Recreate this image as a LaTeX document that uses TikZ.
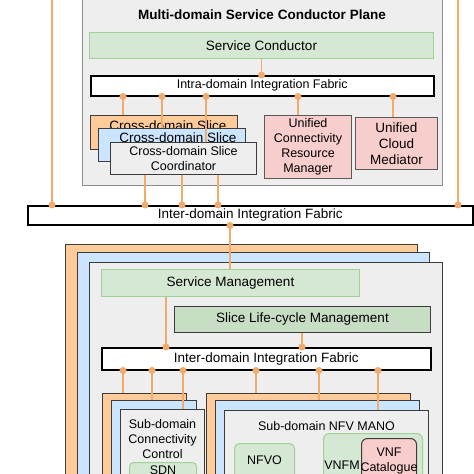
\documentclass[tikz,border=0pt]{standalone}
\usepackage{fontspec}
\setsansfont{Liberation Sans}
\usetikzlibrary{positioning,arrows.meta}

\definecolor{linkc}{RGB}{240,172,110}
\definecolor{orangef}{RGB}{255,204,153}
\definecolor{bluef}{RGB}{204,229,255}
\definecolor{grayf}{RGB}{238,238,238}
\definecolor{greenf}{RGB}{213,232,212}
\definecolor{greend}{RGB}{160,210,150}
\definecolor{lcmf}{RGB}{200,222,196}
\definecolor{pinkf}{RGB}{248,206,204}
\definecolor{edge}{RGB}{60,60,60}

\begin{document}
\begin{tikzpicture}[x=1pt,y=-1pt,
  font=\sffamily\fontsize{12.5}{15}\selectfont,
  every node/.style={align=center, inner sep=0pt},
  big/.style={font=\sffamily\fontsize{13.5}{16}\selectfont},
  blk/.style={anchor=north west, line width=1pt},
  planebox/.style={blk, draw=gray!90, fill=grayf},
  orangebox/.style={blk, draw=edge, fill=orangef},
  bluebox/.style={blk, draw=edge, fill=bluef},
  graybox/.style={blk, draw=edge, fill=grayf},
  greenbox/.style={blk, draw=greend, fill=greenf},
  lcmbox/.style={blk, draw=edge, fill=lcmf},
  pinkbox/.style={blk, draw=edge!85, fill=pinkf},
  fabric/.style={blk, draw=black, line width=1.5pt, fill=white},
  tap/.style={draw=linkc, line width=1.2pt, {Circle[length=7pt]}-, shorten <=-3.5pt}]

\useasboundingbox (0,0) rectangle (474,474);
\clip (0,0) rectangle (474,474);

% Multi-domain service conductor plane
\node[planebox, minimum width=360pt, minimum height=200pt] (plane) at (82,-15) {};
\node[font=\sffamily\bfseries\fontsize{13.5}{16}\selectfont] (planeTitle) at (262,15) {Multi-domain Service Conductor Plane};
\node[greenbox, big, minimum width=344pt, minimum height=26pt] (sc) at (89,32) {Service Conductor};
\node[fabric, minimum width=343pt, minimum height=20pt] (intra) at (90,75) {Intra-domain Integration Fabric};

\node[orangebox, minimum width=147pt, minimum height=34pt] (cdsA) at (90,115) {};
\node[big, below=6pt of cdsA.north, xshift=4pt] (cdsAtxt) {Cross-domain Slice};
\node[bluebox, minimum width=147pt, minimum height=33pt] (cdsB) at (98,128) {};
\node[big, below=5pt of cdsB.north, xshift=6pt] (cdsBtxt) {Cross-domain Slice};
\node[graybox, minimum width=146pt, minimum height=32pt] (cdsC) at (110,142) {Cross-domain Slice\\Coordinator};

\node[pinkbox, minimum width=87pt, minimum height=63pt] (ucrm) at (264,115) {Unified\\Connectivity\\Resource\\Manager};
\node[pinkbox, font=\sffamily\fontsize{13.5}{16}\selectfont, minimum width=82pt, minimum height=52pt] (ucm) at (355,117) {Unified\\Cloud\\Mediator};

% Inter-domain fabric
\node[fabric, big, minimum width=445pt, minimum height=19pt] (inter) at (27,205) {Inter-domain Integration Fabric};

% Domain stack
\node[orangebox, minimum width=352pt, minimum height=260pt] (domA) at (65,244) {};
\node[bluebox, minimum width=352pt, minimum height=260pt] (domB) at (77,252) {};
\node[graybox, minimum width=353pt, minimum height=260pt] (domC) at (89,262) {};
\node[greenbox, big, minimum width=258pt, minimum height=27pt] (sm) at (101,269) {Service Management};
\node[lcmbox, big, minimum width=256pt, minimum height=26pt] (slcm) at (174,306) {Slice Life-cycle Management};
\node[fabric, big, minimum width=329pt, minimum height=22pt] (inter2) at (101,347) {Inter-domain Integration Fabric};

% Sub-domain connectivity control
\node[orangebox, minimum width=84pt, minimum height=100pt] (sccA) at (102,393) {};
\node[bluebox, minimum width=85pt, minimum height=100pt] (sccB) at (111,400) {};
\node[graybox, minimum width=84pt, minimum height=100pt] (sccC) at (120,409) {};
\node[below=10pt of sccC.north] (sccTxt) {Sub-domain\\Connectivity\\Control};
\node[greenbox, rounded corners=4pt, minimum width=67pt, minimum height=40pt] (sdn) at (129,462) {};
\node[below=4pt of sdn.north] (sdnTxt) {SDN};

% Sub-domain NFV MANO
\node[orangebox, minimum width=204pt, minimum height=100pt] (nfvA) at (206,393) {};
\node[bluebox, minimum width=204pt, minimum height=100pt] (nfvB) at (215,400) {};
\node[graybox, minimum width=204pt, minimum height=100pt] (nfvC) at (224,410) {};
\node[below=11pt of nfvC.north] (nfvTxt) {Sub-domain NFV MANO};
\node[greenbox, rounded corners=5pt, minimum width=60pt, minimum height=60pt] (nfvo) at (234,443) {};
\node[below=13pt of nfvo.north] (nfvoTxt) {NFVO};
\node[greenbox, rounded corners=6pt, minimum width=99pt, minimum height=60pt] (vnfm) at (323,433) {};
\node (vnfmTxt) at (342,465) {VNFM};
\node[pinkbox, rounded corners=6pt, draw=edge, minimum width=55pt, minimum height=60pt] (vnfc) at (361,438) {};
\node[below=10pt of vnfc.north] (vnfcTxt) {VNF\\Catalogue};

% Connectors
\coordinate (upL) at (52,-20);
\coordinate (upR) at (458,-20);
\draw[tap] (upL |- inter.north) -- (upL);
\draw[tap] (upR |- inter.north) -- (upR);
\draw[tap] (sc.south |- intra.north) -- (sc.south);
\foreach \x/\t in {123/cdsA,162/cdsB,206/cdsC,298/ucrm,393/ucm}
  \draw[tap] (\x,0 |- intra.south) -- (\x,0 |- \t.north);
\foreach \x in {145,182,218}
  \draw[tap] (\x,0 |- inter.north) -- (\x,0 |- cdsC.south);
\draw[tap] (230,0 |- inter.south) -- (230,0 |- sm.north);
\draw[tap] (166,0 |- inter2.north) -- (166,0 |- sm.south);
\draw[tap] (302,0 |- inter2.north) -- (302,0 |- slcm.south);
\foreach \x/\t in {123/sccA,152/sccB,183/sccC,256/nfvA,319/nfvB,378/nfvC}
  \draw[tap] (\x,0 |- inter2.south) -- (\x,0 |- \t.north);
\end{tikzpicture}
\end{document}
